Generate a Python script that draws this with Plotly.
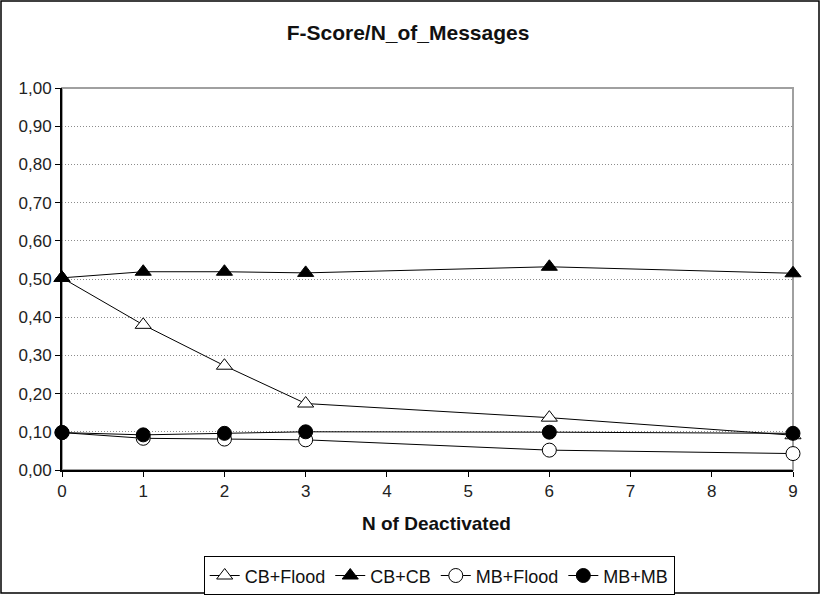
import plotly.graph_objects as go

# values
n_deactivated = [0, 1, 2, 3, 6, 9]
cb_flood = [0.503, 0.380, 0.273, 0.174, 0.137, 0.091]
cb_cb = [0.503, 0.519, 0.519, 0.516, 0.532, 0.515]
mb_flood = [0.098, 0.083, 0.081, 0.079, 0.052, 0.043]
mb_mb = [0.098, 0.092, 0.096, 0.100, 0.099, 0.096]

series = [
    ("CB+Flood", cb_flood, "triangle-up", "white"),
    ("CB+CB", cb_cb, "triangle-up", "black"),
    ("MB+Flood", mb_flood, "circle", "white"),
    ("MB+MB", mb_mb, "circle", "black"),
]

fig = go.Figure()
for name, vals, sym, fill in series:
    fig.add_trace(go.Scatter(
        x=n_deactivated, y=vals, name=name, mode="lines+markers",
        line=dict(color="black", width=1),
        marker=dict(symbol=sym, size=14, color=fill,
                    line=dict(color="black", width=1)),
        cliponaxis=False,
    ))

FONT = "Liberation Sans, Arial, sans-serif"

fig.update_layout(
    width=821, height=595,
    margin=dict(l=62, r=28, t=88, b=125, autoexpand=False),
    paper_bgcolor="white", plot_bgcolor="white",
    separators=",.",
    font=dict(family=FONT, size=17, color="#222222"),
    title=dict(text="<b>F-Score/N_of_Messages</b>", x=0.497, xanchor="center",
               y=1 - 33 / 595, yanchor="middle",
               font=dict(family=FONT, size=21, color="#111111")),
    showlegend=True,
    legend=dict(orientation="h", x=0.516, xanchor="center", y=-0.277,
                yanchor="middle", bordercolor="black", borderwidth=1,
                font=dict(family=FONT, size=18, color="#111111"), itemwidth=30,
                bgcolor="white"),
)

fig.update_xaxes(range=[0, 9], dtick=1, tick0=0, showgrid=False,
                 showline=True, linecolor="black", linewidth=2,
                 ticks="outside", ticklen=5, tickcolor="black",
                 tickfont=dict(size=17), zeroline=False, automargin=False)
fig.update_yaxes(range=[0, 1], dtick=0.1, tickformat=".2f",
                 showgrid=True, gridcolor="#8c8c8c", griddash="1px,2px",
                 gridwidth=1,
                 showline=True, linecolor="black", linewidth=2,
                 ticks="outside", ticklen=5, tickcolor="black",
                 tickfont=dict(size=17), zeroline=False, automargin=False)

# gray plot-area frame
fig.add_shape(type="rect", xref="x domain", yref="y domain",
              x0=0, x1=1, y0=0, y1=1, line=dict(color="#a0a0a0", width=2),
              layer="below")
# outer chart border
fig.add_shape(type="rect", xref="paper", yref="paper",
              x0=(1 - 62) / 731, x1=(819 - 62) / 731,
              y0=(470 - 593) / 382, y1=(470 - 1) / 382,
              line=dict(color="black", width=1.5))

fig.add_annotation(text="<b>N of Deactivated</b>", xref="paper", yref="paper",
                   x=(436 - 62) / 731, y=(470 - 523) / 382, showarrow=False,
                   xanchor="center", yanchor="middle",
                   font=dict(family=FONT, size=19, color="#111111"))

# page has a default body margin; drop it so the chart fills the window
fig.write_html("out.html", config={"displayModeBar": False},
               post_script="document.body.style.margin='0';"
                           "document.body.style.overflow='hidden';")
